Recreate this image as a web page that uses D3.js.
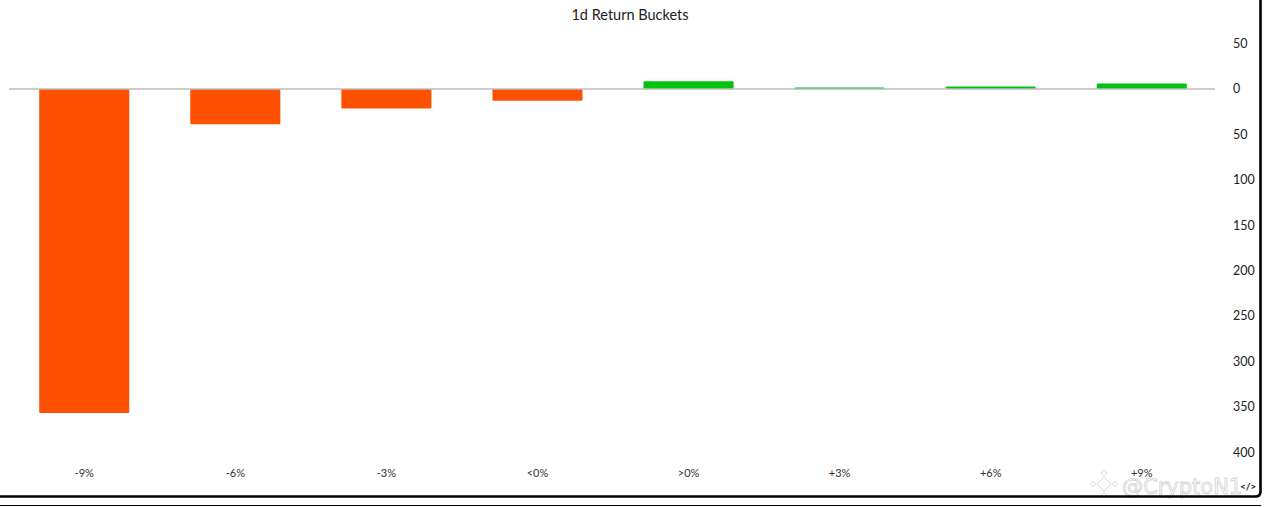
<!DOCTYPE html>
<html>
<head>
<meta charset="utf-8">
<script src="https://cdn.jsdelivr.net/npm/d3@7"></script>
<style>
  html, body { margin: 0; padding: 0; background: #fff; }
  svg { display: block; font-family: Lato, "Noto Sans", sans-serif; }
</style>
</head>
<body>
<svg id="chart" width="1265" height="507"></svg>
<script>
// buckets and counts (negatives plotted downward)
const buckets = ["-9%", "-6%", "-3%", "<0%", ">0%", "+3%", "+6%", "+9%"];
const counts = [-357, -39, -21.5, -13, 8.5, 1.5, 2.7, 6];
const yTicks = [50, 0, -50, -100, -150, -200, -250, -300, -350, -400];

const svg = d3.select("#chart");

const x = d3.scaleBand()
    .domain(buckets)
    .range([9, 1217])
    .paddingInner(0.404)
    .paddingOuter(0.2);

const y = d3.scaleLinear()
    .domain([-400, 50])
    .range([452, 43.5]);

// title
svg.append("text")
    .attr("x", 630).attr("y", 20)
    .attr("text-anchor", "middle")
    .attr("font-size", 14.5)
    .attr("fill", "#222")
    .text("1d Return Buckets");

// bars
svg.selectAll("rect.bar").data(buckets).enter().append("rect")
    .attr("class", "bar")
    .attr("x", d => x(d))
    .attr("width", x.bandwidth())
    .attr("y", (d, i) => y(Math.max(0, counts[i])))
    .attr("height", (d, i) => Math.abs(y(counts[i]) - y(0)))
    .attr("rx", 1.2)
    .attr("fill", (d, i) => counts[i] < 0 ? "#fd5000" : "#00c40c");

// zero line
svg.append("line")
    .attr("x1", 9).attr("x2", 1215)
    .attr("y1", y(0)).attr("y2", y(0))
    .attr("stroke", "#bdbdbd").attr("stroke-width", 1.5);

// right axis, absolute values
const yAxis = d3.axisRight(y)
    .tickValues(yTicks)
    .tickSize(0)
    .tickPadding(0)
    .tickFormat(d => Math.abs(d));
const gy = svg.append("g").attr("transform", "translate(1233,0)").call(yAxis);
gy.select(".domain").remove();
gy.selectAll("text")
    .attr("font-family", "Lato, 'Noto Sans', sans-serif")
    .attr("font-size", 12.5)
    .attr("fill", "#222");

// bottom category labels
const xAxis = d3.axisBottom(x).tickSize(0).tickPadding(0);
const gx = svg.append("g").attr("transform", "translate(0,469)").call(xAxis);
gx.select(".domain").remove();
gx.selectAll("text")
    .attr("font-family", "Lato, 'Noto Sans', sans-serif")
    .attr("font-size", 11)
    .attr("fill", "#333");

// watermark (logo outline + handle)
const wm = svg.append("g").attr("fill", "none").attr("stroke", "#dadada").attr("stroke-width", 1);
[[1104, 484, 7], [1093, 484, 3], [1115, 484, 3], [1104, 473, 3], [1104, 495, 3]].forEach(([cx, cy, r]) => {
    wm.append("path").attr("d", `M${cx},${cy - r} L${cx + r},${cy} L${cx},${cy + r} L${cx - r},${cy} Z`);
});
svg.append("text")
    .attr("x", 1122).attr("y", 494)
    .attr("font-size", 21)
    .attr("font-family", "'DejaVu Sans', sans-serif")
    .attr("fill", "none")
    .attr("stroke", "#d6d6d6")
    .attr("stroke-width", 0.9)
    .text("@CryptoN1");
svg.append("text")
    .attr("x", 1240).attr("y", 490)
    .attr("font-size", 10)
    .attr("font-weight", "bold")
    .attr("fill", "#222")
    .text("</>");

// screenshot frame: right and bottom border with rounded corner
svg.append("path")
    .attr("d", "M0,496.5 H1255.5 Q1260.5,496.5 1260.5,491.5 V0")
    .attr("fill", "none")
    .attr("stroke", "#000")
    .attr("stroke-width", 2.6);
svg.append("line")
    .attr("x1", 0).attr("x2", 1261)
    .attr("y1", 505.5).attr("y2", 505.5)
    .attr("stroke", "#000").attr("stroke-width", 1.2);
</script>
</body>
</html>
